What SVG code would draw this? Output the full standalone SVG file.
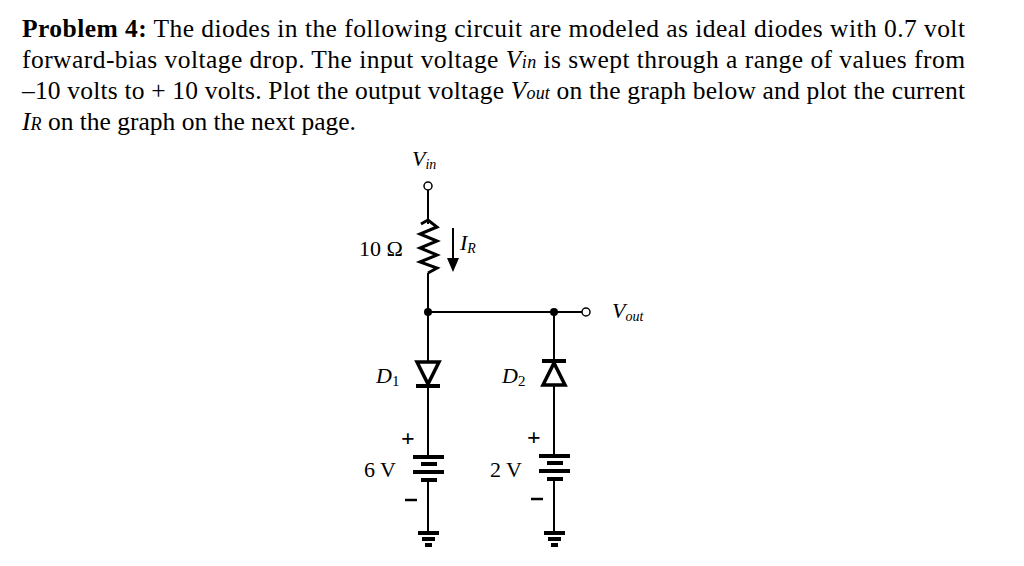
<svg xmlns="http://www.w3.org/2000/svg" width="1024" height="566" viewBox="0 0 1024 566">
<style>
text{font-family:"Liberation Serif","Times New Roman",serif;fill:#000}
.h{font-size:25.5px}
.w{stroke:#000;stroke-width:2;fill:none}
.p{stroke:#000;stroke-width:4;fill:none}
.l{font-size:22px}
</style>
<rect width="1024" height="566" fill="#fff"/>
<g id="text">
<text class="h" x="22" y="37" textLength="943" lengthAdjust="spacing"><tspan font-weight="bold">Problem 4:</tspan> The diodes in the following circuit are modeled as ideal diodes with 0.7 volt</text>
<text class="h" x="22" y="68" textLength="943" lengthAdjust="spacing">forward-bias voltage drop.  The input voltage <tspan font-style="italic">V</tspan><tspan font-style="italic" font-size="18">in</tspan> is swept through a range of values from</text>
<text class="h" x="22" y="99" textLength="943" lengthAdjust="spacing">–10 volts to + 10 volts.  Plot the output voltage <tspan font-style="italic">V</tspan><tspan font-style="italic" font-size="18">out</tspan> on the graph below and plot the current</text>
<text class="h" x="22" y="130"><tspan font-style="italic">I</tspan><tspan font-style="italic" font-size="18">R</tspan> on the graph on the next page.</text>
</g>
<g id="connectors">
<path class="w" d="M428 190V224 M428 273V390 M428 312H582 M554 312V390 M428 384V458 M428 480V532 M554 384V458 M554 480V532"/>
<path d="M421 224 428 220 437 227 420 234 437 241 420 248 437 255 420 262 437 268 428 273" stroke="#000" stroke-width="3" fill="none"/>
<path class="w" d="M453 228V260"/>
<path d="M447 258H459L453 272Z"/>
</g>
<g id="vin"><circle cx="428" cy="186" r="4" fill="#fff" stroke="#000" stroke-width="1.5"/><text class="l" x="412" y="166" font-style="italic">V<tspan font-size="14" dy="3">in</tspan></text></g>
<g id="vout"><circle cx="586" cy="312" r="4" fill="#fff" stroke="#000" stroke-width="1.5"/><text class="l" x="612" y="318" font-style="italic">V<tspan font-size="14" dy="3">out</tspan></text></g>
<g id="nodes"><circle cx="428" cy="312" r="4"/><circle cx="554" cy="312" r="4"/></g>
<g id="R"><text class="l" x="359" y="256">10 Ω</text><text class="l" x="460" y="250" font-style="italic">I<tspan font-size="14" dy="3">R</tspan></text></g>
<g id="D1"><path d="M417 362H439L428 384Z" fill="#fff" stroke="#000" stroke-width="3.5"/><path class="p" d="M416 386H440"/><text class="l" x="376" y="383" font-style="italic">D<tspan font-size="15" font-style="normal" dy="3">1</tspan></text></g>
<g id="D2"><path d="M543 385H565L554 363Z" fill="#fff" stroke="#000" stroke-width="3.5"/><path class="p" d="M542 361H566"/><text class="l" x="502" y="383" font-style="italic">D<tspan font-size="15" font-style="normal" dy="3">2</tspan></text></g>
<g id="B1"><path class="p" d="M413 457H444 M421 464H437 M413 472H444 M421 480H437"/><text x="401" y="446" font-size="24" font-weight="bold">+</text><path d="M405 500H417" stroke="#000" stroke-width="2.5"/><text class="l" x="364" y="477">6 V</text></g>
<g id="B2"><path class="p" d="M539 456H570 M547 463H563 M539 471H570 M547 479H563"/><text x="527" y="445" font-size="24" font-weight="bold">+</text><path d="M531 499H543" stroke="#000" stroke-width="2.5"/><text class="l" x="490" y="477">2 V</text></g>
<g id="G1"><path class="p" d="M418 533H439 M422 539H435 M425 545H432" stroke-width="3"/></g>
<g id="G2"><path class="p" d="M544 533H565 M548 539H561 M551 545H558" stroke-width="3"/></g>
</svg>
